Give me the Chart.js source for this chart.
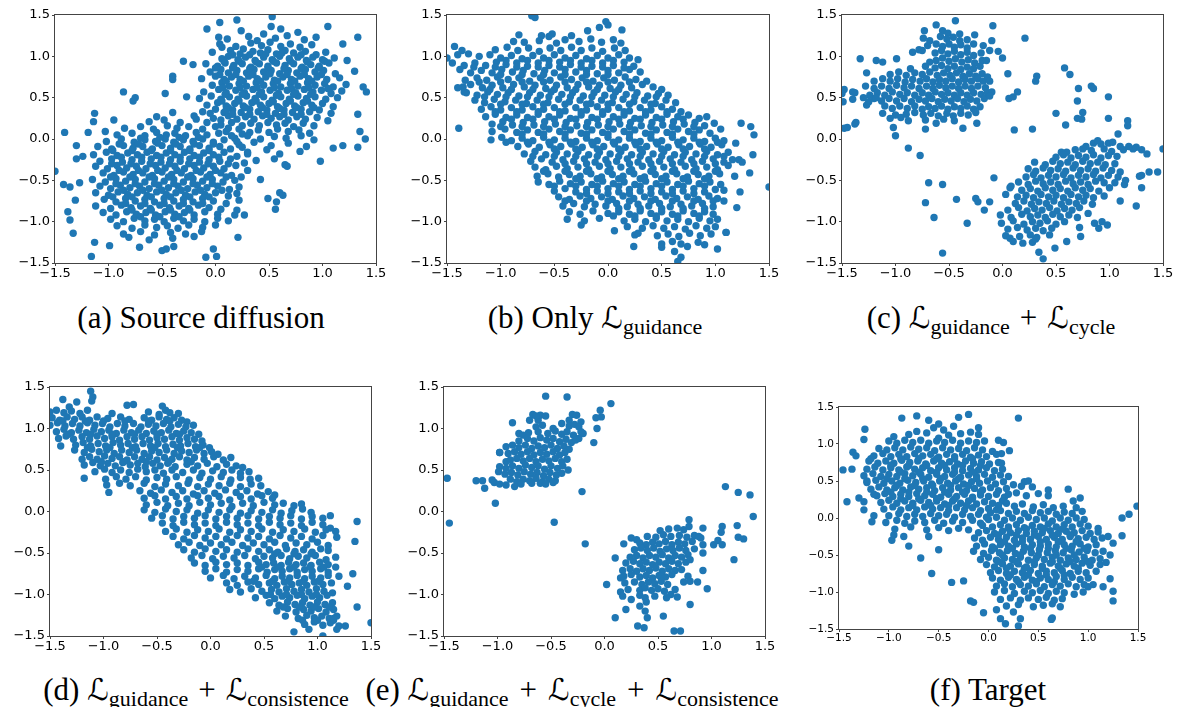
<!DOCTYPE html>
<html>
<head>
<meta charset="utf-8">
<script src="https://cdn.jsdelivr.net/npm/chart.js@4.4.1/dist/chart.umd.min.js"></script>
<style>
  body { margin: 0; background: #fff; width: 1183px; height: 707px; position: relative; overflow: hidden; }
  .panel { position: absolute; }
  .cap {
    position: absolute; white-space: nowrap; width: 500px; margin-left: -250px; text-align: center;
    font-family: "Liberation Serif", Tinos, "Times New Roman", Times, "Nimbus Roman", "Noto Serif", "DejaVu Serif", serif;
    font-size: 31px; line-height: 31px; color: #000;
  }
  .cap .L { font-family: "DejaVu Serif", "DejaVu Sans", serif; font-style: italic; font-size: 30px; }
  .cap .s { font-size: 22px; position: relative; top: 6px; }
  .cap .op { margin: 0 10px; }
  .cap .opt { margin: 0 11px; }
</style>
</head>
<body>
<div id="root"></div>
<div class="cap" style="left:201px; top:302px">(a) Source diffusion</div>
<div class="cap" style="left:595px; top:302px">(b) Only <span class="L">ℒ</span><span class="s">guidance</span></div>
<div class="cap" style="left:991px; top:302px">(c) <span class="L">ℒ</span><span class="s">guidance</span><span class="op">+</span><span class="L">ℒ</span><span class="s">cycle</span></div>
<div class="cap" style="left:196px; top:674px">(d) <span class="L">ℒ</span><span class="s">guidance</span><span class="op">+</span><span class="L">ℒ</span><span class="s">consistence</span></div>
<div class="cap" style="left:572px; top:674px">(e) <span class="L">ℒ</span><span class="s">guidance</span><span class="opt">+</span><span class="L">ℒ</span><span class="s">cycle</span><span class="opt">+</span><span class="L">ℒ</span><span class="s">consistence</span></div>
<div class="cap" style="left:988px; top:674px">(f) Target</div>
<script>
// ── Shared axis ticks ─────────────────────────────────────────
const TICKS = [-1.5, -1.0, -0.5, 0.0, 0.5, 1.0, 1.5];
const DOT = '#1f77b4';

// ── (a) Source diffusion ─────────────────────────────────────
const srcUpper = [
  [0.24,1.31],[0.45,1.27],[0.61,1.33],[0.77,1.29],[0.52,1.36],
  [0.11,1.21],[0.31,1.24],[0.39,1.19],[0.56,1.22],[0.67,1.25],[0.83,1.20],[0.94,1.23],
  [0.04,1.15],[0.19,1.12],[0.33,1.16],[0.43,1.13],[0.51,1.17],[0.61,1.12],[0.70,1.15],[0.79,1.11],[0.90,1.14],[0.26,1.09],
  [-0.03,1.05],[0.14,1.07],[0.23,1.03],[0.35,1.06],[0.42,1.04],[0.49,1.08],[0.57,1.03],[0.65,1.07],[0.73,1.04],[0.84,1.06],[0.94,1.02],[1.03,1.05],
  [0.06,0.97],[0.12,1.00],[0.21,0.96],[0.28,0.99],[0.37,0.95],[0.45,0.99],[0.53,0.96],[0.60,1.00],[0.69,0.97],[0.77,0.99],[0.85,0.95],[0.91,0.99],[1.00,0.96],[1.11,0.98],
  [-0.09,0.91],[0.02,0.88],[0.09,0.92],[0.17,0.89],[0.25,0.91],[0.33,0.87],[0.41,0.91],[0.49,0.88],[0.57,0.92],[0.65,0.89],[0.73,0.91],[0.81,0.87],[0.89,0.90],[0.97,0.88],[1.06,0.92],
  [-0.05,0.81],[0.05,0.84],[0.12,0.80],[0.20,0.83],[0.29,0.80],[0.36,0.84],[0.45,0.81],[0.52,0.83],[0.60,0.79],[0.68,0.83],[0.76,0.80],[0.84,0.84],[0.93,0.81],[1.01,0.83],[1.12,0.79],
  [-0.13,0.73],[0.00,0.76],[0.08,0.72],[0.15,0.75],[0.23,0.72],[0.31,0.76],[0.39,0.73],[0.47,0.75],[0.55,0.71],[0.63,0.75],[0.71,0.72],[0.79,0.76],[0.87,0.73],[0.95,0.75],[1.04,0.72],[1.16,0.74],
  [-0.03,0.65],[0.06,0.68],[0.13,0.64],[0.22,0.67],[0.29,0.64],[0.38,0.68],[0.45,0.65],[0.54,0.67],[0.61,0.63],[0.70,0.67],[0.77,0.64],[0.86,0.68],[0.93,0.65],[1.02,0.67],[1.10,0.63],[1.22,0.66],
  [-0.11,0.57],[0.03,0.60],[0.10,0.56],[0.19,0.59],[0.27,0.56],[0.35,0.60],[0.43,0.57],[0.51,0.59],[0.59,0.55],[0.67,0.59],[0.75,0.56],[0.83,0.60],[0.91,0.57],[0.99,0.59],[1.08,0.55],[1.18,0.58],
  [-0.15,0.49],[-0.04,0.52],[0.05,0.48],[0.13,0.51],[0.21,0.48],[0.29,0.52],[0.37,0.49],[0.45,0.51],[0.53,0.47],[0.61,0.51],[0.69,0.48],[0.77,0.52],[0.85,0.49],[0.93,0.51],[1.03,0.48],[1.14,0.50],
  [-0.08,0.41],[0.02,0.44],[0.10,0.40],[0.18,0.43],[0.26,0.40],[0.34,0.44],[0.42,0.41],[0.50,0.43],[0.58,0.39],[0.66,0.43],[0.74,0.40],[0.82,0.44],[0.90,0.41],[1.00,0.43],[1.10,0.39],
  [-0.12,0.33],[0.00,0.36],[0.08,0.32],[0.16,0.35],[0.24,0.32],[0.32,0.36],[0.40,0.33],[0.48,0.35],[0.56,0.31],[0.64,0.35],[0.72,0.32],[0.80,0.36],[0.88,0.33],[0.97,0.35],[1.08,0.31],
  [-0.02,0.25],[0.12,0.28],[0.20,0.24],[0.28,0.27],[0.36,0.24],[0.44,0.28],[0.52,0.25],[0.60,0.27],[0.68,0.23],[0.76,0.27],[0.84,0.24],[0.95,0.26],[1.05,0.22],
  [0.05,0.17],[0.15,0.20],[0.25,0.16],[0.33,0.19],[0.41,0.16],[0.49,0.20],[0.57,0.17],[0.65,0.19],[0.73,0.15],[0.82,0.19],[0.92,0.16],
  [0.10,0.09],[0.22,0.12],[0.32,0.08],[0.40,0.11],[0.50,0.08],[0.58,0.12],[0.68,0.09],[0.78,0.11],[0.88,0.07],
  [0.18,0.01],[0.30,0.04],[0.42,0.00],[0.55,0.03],[0.66,0.01],[0.80,0.04],[0.92,-0.01],
  [0.22,-0.07],[0.36,-0.04],[0.52,-0.08],[0.68,-0.05],[0.85,-0.09],
  [0.30,-0.16],[0.48,-0.13],[0.60,-0.18],[0.38,-0.26],[0.55,-0.24],[0.65,-0.31],[0.67,-0.33]
];
const srcUpperCore = [
  [0.16,1.02],[0.32,1.02],[0.47,1.03],[0.62,1.04],[0.80,1.02],
  [0.08,0.94],[0.22,0.94],[0.38,0.93],[0.54,0.94],[0.70,0.94],[0.86,0.93],[1.02,0.94],
  [0.00,0.86],[0.16,0.86],[0.32,0.85],[0.49,0.86],[0.64,0.85],[0.80,0.85],[0.96,0.86],
  [0.04,0.78],[0.19,0.78],[0.35,0.78],[0.51,0.79],[0.67,0.78],[0.83,0.78],[0.99,0.78],
  [0.10,0.70],[0.26,0.70],[0.42,0.70],[0.58,0.70],[0.74,0.70],[0.90,0.70],
  [0.07,0.62],[0.23,0.62],[0.39,0.62],[0.55,0.62],[0.71,0.61],[0.87,0.62],[1.05,0.61],
  [0.09,0.54],[0.25,0.54],[0.41,0.54],[0.57,0.53],[0.73,0.54],[0.89,0.54],
  [0.06,0.46],[0.22,0.46],[0.38,0.46],[0.54,0.45],[0.70,0.46],[0.86,0.46],
  [0.12,0.38],[0.28,0.38],[0.44,0.38],[0.60,0.37],[0.76,0.38],[0.92,0.38],
  [0.16,0.30],[0.32,0.30],[0.48,0.30],[0.64,0.30],[0.80,0.30]
];
const srcLower = [
  [-0.40,0.32],[-0.20,0.28],[-0.05,0.31],[0.10,0.35],[-0.55,0.27],
  [-0.62,0.21],[-0.48,0.23],[-0.33,0.20],[-0.18,0.24],[-0.08,0.20],[0.05,0.23],
  [-0.85,0.13],[-0.70,0.15],[-0.58,0.12],[-0.45,0.16],[-0.36,0.13],[-0.25,0.15],[-0.12,0.12],[0.00,0.15],[0.12,0.13],
  [-0.92,0.05],[-0.78,0.07],[-0.66,0.04],[-0.55,0.08],[-0.46,0.05],[-0.38,0.07],[-0.28,0.04],[-0.18,0.08],[-0.08,0.05],[0.03,0.07],[0.15,0.04],[0.25,0.06],
  [-1.02,-0.03],[-0.88,0.00],[-0.76,-0.04],[-0.66,-0.01],[-0.56,-0.03],[-0.47,0.00],[-0.39,-0.04],[-0.30,-0.01],[-0.21,-0.03],[-0.12,0.00],[-0.02,-0.04],[0.08,-0.01],[0.20,-0.03],
  [-1.10,-0.09],[-0.97,-0.12],[-0.86,-0.08],[-0.77,-0.11],[-0.68,-0.09],[-0.59,-0.12],[-0.50,-0.08],[-0.42,-0.11],[-0.33,-0.09],[-0.24,-0.12],[-0.15,-0.08],[-0.06,-0.11],[0.04,-0.09],[0.14,-0.12],[0.25,-0.10],
  [-1.14,-0.19],[-1.02,-0.16],[-0.92,-0.20],[-0.82,-0.17],[-0.73,-0.19],[-0.64,-0.16],[-0.55,-0.20],[-0.46,-0.17],[-0.38,-0.19],[-0.29,-0.16],[-0.20,-0.20],[-0.11,-0.17],[-0.02,-0.19],[0.08,-0.16],[0.20,-0.21],[0.30,-0.18],
  [-1.08,-0.27],[-0.97,-0.24],[-0.87,-0.28],[-0.78,-0.25],[-0.69,-0.27],[-0.60,-0.24],[-0.51,-0.28],[-0.42,-0.25],[-0.33,-0.27],[-0.24,-0.24],[-0.15,-0.28],[-0.06,-0.25],[0.04,-0.27],[0.14,-0.24],[0.27,-0.29],
  [-1.12,-0.33],[-1.01,-0.36],[-0.92,-0.32],[-0.83,-0.35],[-0.74,-0.33],[-0.65,-0.36],[-0.56,-0.32],[-0.47,-0.35],[-0.38,-0.33],[-0.29,-0.36],[-0.20,-0.32],[-0.11,-0.35],[-0.02,-0.33],[0.08,-0.36],[0.19,-0.32],[0.30,-0.38],
  [-1.05,-0.41],[-0.95,-0.44],[-0.86,-0.40],[-0.77,-0.43],[-0.68,-0.41],[-0.59,-0.44],[-0.50,-0.40],[-0.41,-0.43],[-0.32,-0.41],[-0.23,-0.44],[-0.14,-0.40],[-0.05,-0.43],[0.05,-0.41],[0.15,-0.44],[0.24,-0.46],
  [-1.15,-0.49],[-1.03,-0.52],[-0.93,-0.48],[-0.84,-0.51],[-0.75,-0.49],[-0.66,-0.52],[-0.57,-0.48],[-0.48,-0.51],[-0.39,-0.49],[-0.30,-0.52],[-0.21,-0.48],[-0.12,-0.51],[-0.03,-0.49],[0.07,-0.52],[0.18,-0.50],
  [-1.08,-0.57],[-0.98,-0.60],[-0.89,-0.56],[-0.80,-0.59],[-0.71,-0.57],[-0.62,-0.60],[-0.53,-0.56],[-0.44,-0.59],[-0.35,-0.57],[-0.26,-0.60],[-0.17,-0.56],[-0.08,-0.59],[0.02,-0.57],[0.13,-0.61],[0.22,-0.58],
  [-1.12,-0.65],[-1.00,-0.68],[-0.91,-0.64],[-0.82,-0.67],[-0.73,-0.65],[-0.64,-0.68],[-0.55,-0.64],[-0.46,-0.67],[-0.37,-0.65],[-0.28,-0.68],[-0.19,-0.64],[-0.10,-0.67],[0.00,-0.65],[0.12,-0.69],[0.20,-0.66],
  [-1.04,-0.73],[-0.93,-0.76],[-0.84,-0.72],[-0.75,-0.75],[-0.66,-0.73],[-0.57,-0.76],[-0.48,-0.72],[-0.39,-0.75],[-0.30,-0.73],[-0.21,-0.76],[-0.12,-0.72],[-0.02,-0.75],[0.10,-0.78],[0.22,-0.74],
  [-1.12,-0.81],[-0.98,-0.84],[-0.88,-0.80],[-0.79,-0.83],[-0.70,-0.81],[-0.61,-0.84],[-0.52,-0.80],[-0.43,-0.83],[-0.34,-0.81],[-0.25,-0.84],[-0.16,-0.80],[-0.06,-0.83],[0.05,-0.85],[0.20,-0.86],
  [-1.05,-0.89],[-0.93,-0.92],[-0.83,-0.88],[-0.74,-0.91],[-0.65,-0.89],[-0.56,-0.92],[-0.47,-0.88],[-0.38,-0.91],[-0.29,-0.89],[-0.20,-0.92],[-0.10,-0.88],[0.02,-0.91],[0.18,-0.92],
  [-0.98,-0.97],[-0.86,-1.00],[-0.76,-0.96],[-0.66,-0.99],[-0.57,-0.97],[-0.48,-1.00],[-0.39,-0.96],[-0.30,-0.99],[-0.20,-0.97],[-0.10,-1.00],[0.02,-0.96],[0.12,-0.99],
  [-0.92,-1.05],[-0.78,-1.08],[-0.66,-1.04],[-0.55,-1.07],[-0.45,-1.05],[-0.35,-1.08],[-0.25,-1.04],[-0.12,-1.07],[0.00,-1.04],
  [-0.86,-1.15],[-0.70,-1.12],[-0.57,-1.16],[-0.42,-1.13],[-0.28,-1.15],[-0.13,-1.12],
  [-0.62,-1.22],[-0.40,-1.20],[-0.20,-1.18],[-0.81,-1.19]
];
const srcLowerCore = [
  [-0.70,0.01],[-0.52,0.02],[-0.34,0.02],[-0.16,0.02],
  [-0.90,-0.06],[-0.72,-0.06],[-0.54,-0.05],[-0.37,-0.06],[-0.20,-0.06],[-0.02,-0.06],
  [-0.96,-0.14],[-0.78,-0.14],[-0.60,-0.14],[-0.42,-0.14],[-0.24,-0.14],[-0.06,-0.14],
  [-0.88,-0.22],[-0.69,-0.22],[-0.51,-0.22],[-0.33,-0.22],[-0.15,-0.22],[0.03,-0.22],
  [-0.97,-0.30],[-0.79,-0.30],[-0.61,-0.30],[-0.43,-0.30],[-0.25,-0.30],[-0.07,-0.30],[0.12,-0.30],
  [-0.90,-0.38],[-0.72,-0.38],[-0.54,-0.38],[-0.36,-0.38],[-0.18,-0.38],[0.00,-0.38],
  [-0.98,-0.46],[-0.80,-0.46],[-0.62,-0.46],[-0.44,-0.46],[-0.26,-0.46],[-0.08,-0.46],[0.10,-0.46],
  [-0.93,-0.54],[-0.75,-0.54],[-0.57,-0.54],[-0.39,-0.54],[-0.21,-0.54],[-0.03,-0.54],
  [-0.86,-0.62],[-0.68,-0.62],[-0.50,-0.62],[-0.32,-0.62],[-0.14,-0.62],[0.06,-0.62],
  [-0.96,-0.70],[-0.78,-0.70],[-0.60,-0.70],[-0.42,-0.70],[-0.24,-0.70],[-0.06,-0.70],
  [-0.84,-0.78],[-0.66,-0.78],[-0.48,-0.78],[-0.30,-0.78],[-0.12,-0.78],
  [-0.78,-0.86],[-0.60,-0.86],[-0.42,-0.86],[-0.24,-0.86],
  [-0.70,-0.94],[-0.52,-0.94],[-0.34,-0.94]
];
const srcSparse = [
  [0.53,1.48],[0.04,1.41],[-0.08,1.33],[0.20,1.44],[1.05,1.36],[1.33,1.23],[1.19,1.15],[1.23,0.95],
  [1.30,0.82],[1.38,0.63],[1.41,0.57],[1.33,0.30],[1.35,0.09],[1.40,0.00],[1.33,-0.10],[1.19,-0.08],
  [1.10,-0.11],[0.98,-0.27],[0.79,-0.15],[0.49,-0.72],[0.57,-0.76],[0.56,-0.85],[0.60,-0.65],[0.63,-0.68],
  [0.42,-0.49],[0.21,-1.19],[0.27,-0.92],[-0.02,-1.33],[-0.09,-1.43],[0.01,-1.42],[-0.39,-1.30],[-0.46,-1.33],
  [-0.50,-1.35],[-0.71,-1.31],[-0.99,-1.29],[-1.16,-1.42],[-1.13,-1.25],[-1.33,-1.14],[-1.36,-0.98],[-1.38,-0.88],
  [-1.31,-0.74],[-1.42,-0.55],[-1.50,-0.39],[-1.36,-0.58],[-1.27,-0.53],[-1.30,-0.24],[-1.24,-0.21],[-1.30,-0.08],
  [-1.41,0.08],[-1.19,0.08],[-1.13,0.31],[-1.14,0.21],[-0.86,0.57],[-0.75,0.50],[-0.77,0.46],[-0.95,0.23],
  [-1.03,0.09],[-0.30,0.94],[-0.40,0.76],[-0.40,0.72],[-0.47,0.55],[-0.21,0.90],[-0.27,0.51],[0.06,1.11],[0.03,1.23]
];

// ── (b) Only L_guidance ──────────────────────────────────────
const guideBand = [
  [-0.71,1.49],[-0.68,1.47],[-0.62,1.25],[-0.55,1.24],[-0.52,1.27],[-0.34,1.25],[-0.19,1.31],[-0.08,1.35],[0.00,1.38],[-0.02,1.42],[0.13,1.32],[-0.88,1.18],[-0.83,1.26],
  [-0.78,1.17],[-0.64,1.19],[-0.48,1.16],[-0.40,1.20],[-0.27,1.18],[-0.16,1.21],[-0.06,1.17],[0.05,1.20],[0.12,1.16],
  [-1.43,1.12],[-1.36,1.07],[-1.05,1.08],[-0.94,1.11],[-0.84,1.07],[-0.74,1.10],[-0.64,1.06],[-0.54,1.10],[-0.44,1.07],[-0.34,1.11],[-0.25,1.07],[-0.15,1.10],[-0.05,1.06],[0.06,1.10],[0.16,1.07],
  [-1.50,0.98],[-1.40,1.02],[-1.30,1.03],[-1.20,1.00],[-1.10,1.02],[-1.00,0.98],[-0.90,1.01],[-0.80,0.97],[-0.70,1.01],[-0.60,0.98],[-0.50,1.02],[-0.40,0.98],[-0.30,1.01],[-0.20,0.97],[-0.10,1.01],[0.00,0.98],[0.10,1.02],[0.20,0.98],
  [-1.45,0.92],[-1.34,0.89],[-1.24,0.92],[-1.14,0.89],[-1.04,0.93],[-0.95,0.90],[-0.85,0.92],[-0.75,0.88],[-0.65,0.92],[-0.55,0.89],[-0.45,0.93],[-0.35,0.90],[-0.25,0.92],[-0.15,0.88],[-0.05,0.92],[0.05,0.89],[0.15,0.93],[0.28,0.96],[0.24,0.88],
  [-1.38,0.84],[-1.28,0.80],[-1.18,0.83],[-1.08,0.80],[-0.99,0.84],[-0.89,0.81],[-0.79,0.83],[-0.69,0.79],[-0.59,0.83],[-0.50,0.80],[-0.40,0.84],[-0.30,0.81],[-0.20,0.83],[-0.10,0.79],[0.00,0.83],[0.10,0.80],[0.20,0.84],[0.30,0.81],
  [-1.33,0.71],[-1.22,0.74],[-1.13,0.71],[-1.03,0.75],[-0.93,0.72],[-0.83,0.74],[-0.73,0.70],[-0.63,0.74],[-0.54,0.71],[-0.44,0.75],[-0.34,0.72],[-0.24,0.74],[-0.14,0.70],[-0.04,0.74],[0.06,0.71],[0.16,0.75],[0.26,0.72],[0.36,0.70],
  [-1.35,0.63],[-1.28,0.66],[-1.17,0.62],[-1.08,0.65],[-0.98,0.62],[-0.88,0.66],[-0.78,0.63],[-0.68,0.65],[-0.58,0.61],[-0.48,0.65],[-0.38,0.62],[-0.28,0.66],[-0.18,0.63],[-0.08,0.65],[0.02,0.61],[0.12,0.65],[0.22,0.62],[0.32,0.66],[0.42,0.63],[0.50,0.60],
  [-1.32,0.56],[-1.22,0.53],[-1.12,0.57],[-1.03,0.54],[-0.93,0.56],[-0.83,0.52],[-0.73,0.56],[-0.63,0.53],[-0.53,0.57],[-0.43,0.54],[-0.33,0.56],[-0.23,0.52],[-0.13,0.56],[-0.03,0.53],[0.07,0.57],[0.17,0.54],[0.27,0.56],[0.37,0.52],[0.47,0.55],[0.56,0.53],
  [-1.24,0.47],[-1.15,0.44],[-1.06,0.48],[-0.96,0.45],[-0.86,0.47],[-0.76,0.43],[-0.66,0.47],[-0.56,0.44],[-0.46,0.48],[-0.36,0.45],[-0.26,0.47],[-0.16,0.43],[-0.06,0.47],[0.04,0.44],[0.14,0.48],[0.24,0.45],[0.34,0.47],[0.44,0.43],[0.54,0.47],[0.63,0.44],
  [-1.18,0.36],[-1.09,0.39],[-1.00,0.35],[-0.90,0.38],[-0.80,0.35],[-0.70,0.39],[-0.60,0.36],[-0.50,0.38],[-0.40,0.34],[-0.30,0.38],[-0.20,0.35],[-0.10,0.39],[0.00,0.36],[0.10,0.38],[0.20,0.34],[0.30,0.38],[0.40,0.35],[0.50,0.39],[0.60,0.36],[0.68,0.33],
  [-1.14,0.27],[-1.05,0.30],[-0.95,0.26],[-0.85,0.29],[-0.75,0.26],[-0.65,0.30],[-0.55,0.27],[-0.45,0.29],[-0.35,0.25],[-0.25,0.29],[-0.15,0.26],[-0.05,0.30],[0.05,0.27],[0.15,0.29],[0.25,0.25],[0.35,0.29],[0.45,0.26],[0.55,0.30],[0.65,0.27],[0.75,0.29],[0.85,0.25],[0.92,0.27],
  [-1.08,0.18],[-0.98,0.21],[-0.89,0.17],[-0.79,0.20],[-0.69,0.17],[-0.59,0.21],[-0.49,0.18],[-0.39,0.20],[-0.29,0.16],[-0.19,0.20],[-0.09,0.17],[0.01,0.21],[0.11,0.18],[0.21,0.20],[0.31,0.16],[0.41,0.20],[0.51,0.17],[0.61,0.21],[0.71,0.18],[0.81,0.20],[0.90,0.16],[0.99,0.19],
  [-1.08,0.09],[-0.96,0.12],[-0.85,0.08],[-0.75,0.11],[-0.65,0.08],[-0.55,0.12],[-0.45,0.09],[-0.35,0.11],[-0.25,0.07],[-0.15,0.11],[-0.05,0.08],[0.05,0.12],[0.15,0.09],[0.25,0.11],[0.35,0.07],[0.45,0.11],[0.55,0.08],[0.65,0.12],[0.75,0.09],[0.85,0.11],[0.95,0.07],[1.05,0.12],
  [-1.09,-0.01],[-0.99,0.02],[-0.90,-0.02],[-0.80,0.01],[-0.70,-0.02],[-0.60,0.02],[-0.50,-0.01],[-0.40,0.01],[-0.30,-0.03],[-0.20,0.01],[-0.10,-0.02],[0.00,0.02],[0.10,-0.01],[0.20,0.01],[0.30,-0.03],[0.40,0.01],[0.50,-0.02],[0.60,0.02],[0.70,-0.01],[0.80,0.01],[0.90,-0.03],[1.00,0.01],[1.08,-0.02],
  [-0.84,-0.09],[-0.74,-0.06],[-0.64,-0.10],[-0.54,-0.07],[-0.44,-0.09],[-0.34,-0.06],[-0.24,-0.10],[-0.14,-0.07],[-0.04,-0.09],[0.06,-0.06],[0.16,-0.10],[0.26,-0.07],[0.36,-0.09],[0.46,-0.06],[0.56,-0.10],[0.66,-0.07],[0.76,-0.09],[0.86,-0.06],[0.96,-0.10],[1.06,-0.07],
  [-0.78,-0.18],[-0.68,-0.15],[-0.58,-0.19],[-0.48,-0.16],[-0.38,-0.18],[-0.28,-0.15],[-0.18,-0.19],[-0.08,-0.16],[0.02,-0.18],[0.12,-0.15],[0.22,-0.19],[0.32,-0.16],[0.42,-0.18],[0.52,-0.15],[0.62,-0.19],[0.72,-0.16],[0.82,-0.18],[0.92,-0.15],[1.02,-0.19],[1.12,-0.16],
  [-0.72,-0.27],[-0.62,-0.24],[-0.52,-0.28],[-0.42,-0.25],[-0.32,-0.27],[-0.22,-0.24],[-0.12,-0.28],[-0.02,-0.25],[0.08,-0.27],[0.18,-0.24],[0.28,-0.28],[0.38,-0.25],[0.48,-0.27],[0.58,-0.24],[0.68,-0.28],[0.78,-0.25],[0.88,-0.27],[0.98,-0.24],[1.08,-0.28],[1.16,-0.25],
  [-0.68,-0.34],[-0.58,-0.37],[-0.48,-0.33],[-0.38,-0.36],[-0.28,-0.34],[-0.18,-0.37],[-0.08,-0.33],[0.02,-0.36],[0.12,-0.34],[0.22,-0.37],[0.32,-0.33],[0.42,-0.36],[0.52,-0.34],[0.62,-0.37],[0.72,-0.33],[0.82,-0.36],[0.92,-0.34],[1.02,-0.37],[1.12,-0.32],
  [-0.66,-0.45],[-0.56,-0.42],[-0.46,-0.46],[-0.36,-0.43],[-0.26,-0.45],[-0.16,-0.42],[-0.06,-0.46],[0.04,-0.43],[0.14,-0.45],[0.24,-0.42],[0.34,-0.46],[0.44,-0.43],[0.54,-0.45],[0.64,-0.42],[0.74,-0.46],[0.84,-0.43],[0.94,-0.45],[1.04,-0.42],
  [-0.65,-0.52],[-0.55,-0.55],[-0.45,-0.51],[-0.35,-0.54],[-0.25,-0.52],[-0.15,-0.55],[-0.05,-0.51],[0.05,-0.54],[0.15,-0.52],[0.25,-0.55],[0.35,-0.51],[0.45,-0.54],[0.55,-0.52],[0.65,-0.55],[0.75,-0.51],[0.85,-0.54],[0.95,-0.52],[1.05,-0.55],
  [-0.50,-0.63],[-0.40,-0.60],[-0.30,-0.64],[-0.20,-0.61],[-0.10,-0.63],[0.00,-0.60],[0.10,-0.64],[0.20,-0.61],[0.30,-0.63],[0.40,-0.60],[0.50,-0.64],[0.60,-0.61],[0.70,-0.63],[0.80,-0.60],[0.90,-0.64],[1.00,-0.61],[1.08,-0.62],
  [-0.46,-0.70],[-0.36,-0.73],[-0.26,-0.69],[-0.16,-0.72],[-0.06,-0.70],[0.04,-0.73],[0.14,-0.69],[0.24,-0.72],[0.34,-0.70],[0.44,-0.73],[0.54,-0.69],[0.64,-0.72],[0.74,-0.70],[0.84,-0.73],[0.94,-0.69],[1.02,-0.72],
  [-0.42,-0.81],[-0.32,-0.78],[-0.22,-0.82],[-0.12,-0.79],[-0.02,-0.81],[0.08,-0.78],[0.18,-0.82],[0.28,-0.79],[0.38,-0.81],[0.48,-0.78],[0.58,-0.82],[0.68,-0.79],[0.78,-0.81],[0.88,-0.78],[0.98,-0.82],
  [-0.36,-0.88],[-0.26,-0.91],[-0.14,-0.87],[0.00,-0.90],[0.10,-0.88],[0.20,-0.91],[0.30,-0.87],[0.40,-0.90],[0.50,-0.88],[0.60,-0.91],[0.70,-0.87],[0.80,-0.90],[0.90,-0.88],[0.98,-0.91],
  [-0.38,-0.97],[-0.22,-0.99],[-0.08,-0.96],[0.15,-0.99],[0.25,-0.97],[0.35,-1.00],[0.45,-0.96],[0.55,-0.99],[0.65,-0.97],[0.75,-1.00],[0.85,-0.96],[0.95,-0.99],[1.02,-0.97],
  [-0.25,-1.04],[0.18,-1.06],[0.32,-1.08],[0.42,-1.05],[0.52,-1.08],[0.62,-1.06],[0.72,-1.09],[0.82,-1.05],[0.92,-1.08],[1.00,-1.06],[0.06,-1.11],
  [0.25,-1.16],[0.28,-1.14],[0.46,-1.17],[0.56,-1.15],[0.66,-1.18],[0.76,-1.14],[0.86,-1.17],[0.96,-1.15],[1.10,-1.13],
  [0.24,-1.30],[0.50,-1.27],[0.50,-1.31],[0.60,-1.24],[0.68,-1.27],[0.74,-1.30],[0.84,-1.25],[0.90,-1.28],[1.02,-1.33],[0.62,-1.36],[0.65,-1.48],[0.68,-1.43]
];
const guideCore = [
  [-0.95,0.95],[-0.75,0.95],[-0.55,0.95],[-0.35,0.95],[-0.15,0.95],[0.05,0.95],
  [-1.00,0.78],[-0.80,0.78],[-0.60,0.78],[-0.40,0.78],[-0.20,0.78],[0.00,0.78],
  [-1.10,0.60],[-0.90,0.60],[-0.70,0.60],[-0.50,0.60],[-0.30,0.60],[-0.10,0.60],[0.10,0.60],
  [-1.00,0.42],[-0.80,0.42],[-0.60,0.42],[-0.40,0.42],[-0.20,0.42],[0.00,0.42],[0.20,0.42],[0.40,0.42],
  [-0.90,0.24],[-0.70,0.24],[-0.50,0.24],[-0.30,0.24],[-0.10,0.24],[0.10,0.24],[0.30,0.24],[0.50,0.24],[0.70,0.24],
  [-0.80,0.06],[-0.60,0.06],[-0.40,0.06],[-0.20,0.06],[0.00,0.06],[0.20,0.06],[0.40,0.06],[0.60,0.06],[0.80,0.06],
  [-0.50,-0.12],[-0.30,-0.12],[-0.10,-0.12],[0.10,-0.12],[0.30,-0.12],[0.50,-0.12],[0.70,-0.12],[0.90,-0.12],
  [-0.40,-0.30],[-0.20,-0.30],[0.00,-0.30],[0.20,-0.30],[0.40,-0.30],[0.60,-0.30],[0.80,-0.30],[1.00,-0.30],
  [-0.30,-0.48],[-0.10,-0.48],[0.10,-0.48],[0.30,-0.48],[0.50,-0.48],[0.70,-0.48],[0.90,-0.48],
  [-0.20,-0.66],[0.00,-0.66],[0.20,-0.66],[0.40,-0.66],[0.60,-0.66],[0.80,-0.66],
  [0.10,-0.84],[0.30,-0.84],[0.50,-0.84],[0.70,-0.84],[0.90,-0.84]
];
const guideCore2 = [
  [-1.25,0.87],[-1.05,0.87],[-0.85,0.87],[-0.65,0.87],[-0.45,0.87],[-0.25,0.87],[-0.05,0.87],[0.15,0.86],
  [-1.20,0.69],[-1.00,0.69],[-0.80,0.69],[-0.60,0.69],[-0.40,0.69],[-0.20,0.69],[0.00,0.69],[0.20,0.69],
  [-1.15,0.51],[-0.95,0.51],[-0.75,0.51],[-0.55,0.51],[-0.35,0.51],[-0.15,0.51],[0.05,0.51],[0.25,0.51],[0.45,0.51],
  [-1.05,0.33],[-0.85,0.33],[-0.65,0.33],[-0.45,0.33],[-0.25,0.33],[-0.05,0.33],[0.15,0.33],[0.35,0.33],[0.55,0.33],
  [-1.00,0.15],[-0.80,0.15],[-0.60,0.15],[-0.40,0.15],[-0.20,0.15],[0.00,0.15],[0.20,0.15],[0.40,0.15],[0.60,0.15],[0.80,0.15],
  [-0.95,-0.04],[-0.75,-0.04],[-0.55,-0.04],[-0.35,-0.04],[-0.15,-0.04],[0.05,-0.04],[0.25,-0.04],[0.45,-0.04],[0.65,-0.04],[0.85,-0.04],[1.02,-0.04],
  [-0.70,-0.21],[-0.50,-0.21],[-0.30,-0.21],[-0.10,-0.21],[0.10,-0.21],[0.30,-0.21],[0.50,-0.21],[0.70,-0.21],[0.90,-0.21],[1.08,-0.21],
  [-0.60,-0.39],[-0.40,-0.39],[-0.20,-0.39],[0.00,-0.39],[0.20,-0.39],[0.40,-0.39],[0.60,-0.39],[0.80,-0.39],[1.00,-0.39],
  [-0.50,-0.57],[-0.30,-0.57],[-0.10,-0.57],[0.10,-0.57],[0.30,-0.57],[0.50,-0.57],[0.70,-0.57],[0.90,-0.57],
  [-0.40,-0.75],[-0.20,-0.75],[0.00,-0.75],[0.20,-0.75],[0.40,-0.75],[0.60,-0.75],[0.80,-0.75],[0.98,-0.75],
  [0.05,-0.93],[0.25,-0.93],[0.45,-0.93],[0.65,-0.93],[0.85,-0.93]
];
const guideSparse = [
  [-1.39,0.13],[1.50,-0.58],[1.33,0.15],[1.36,0.05],[1.35,-0.19],[1.32,-0.41],[1.24,0.19],[1.22,-0.25],
  [1.23,-0.64],[1.20,-0.83],[1.10,-1.13],[1.08,-0.75],[1.18,-0.45],[1.19,-0.05],[1.25,-0.28],[-1.34,0.57],[-1.40,0.62]
];

// ── (c) L_guidance + L_cycle ─────────────────────────────────
const cycUpper = [
  [-0.62,1.38],[-0.44,1.43],
  [-0.73,1.31],[-0.56,1.31],[-0.51,1.28],[-0.40,1.27],
  [-0.74,1.22],[-0.68,1.19],[-0.58,1.24],[-0.52,1.21],[-0.46,1.23],[-0.40,1.19],[-0.33,1.20],[-0.26,1.26],
  [-0.78,1.08],[-0.70,1.13],[-0.62,1.15],[-0.56,1.12],[-0.50,1.15],[-0.45,1.11],[-0.39,1.14],[-0.33,1.10],[-0.27,1.15],[-0.18,1.13],
  [-0.84,1.05],[-0.75,1.07],[-0.63,1.04],[-0.57,1.07],[-0.51,1.03],[-0.45,1.06],[-0.39,1.02],[-0.33,1.05],[-0.27,1.01],[-0.20,1.04],
  [-0.68,0.93],[-0.62,0.95],[-0.56,0.98],[-0.50,0.94],[-0.44,0.97],[-0.38,0.93],[-0.32,0.96],[-0.26,0.92],[-0.19,0.95],
  [-0.86,0.85],[-0.72,0.88],[-0.63,0.86],[-0.57,0.89],[-0.51,0.85],[-0.45,0.88],[-0.39,0.84],[-0.33,0.87],[-0.27,0.85],[-0.21,0.88],
  [-1.05,0.78],[-0.97,0.81],[-0.90,0.77],[-0.82,0.80],[-0.75,0.78],[-0.68,0.81],[-0.61,0.77],[-0.55,0.80],[-0.49,0.77],[-0.43,0.80],[-0.37,0.76],[-0.31,0.79],[-0.25,0.76],[-0.19,0.79],
  [-1.20,0.70],[-1.12,0.73],[-1.05,0.70],[-0.98,0.73],[-0.91,0.69],[-0.84,0.72],[-0.77,0.70],[-0.71,0.73],[-0.65,0.69],[-0.59,0.72],[-0.53,0.70],[-0.47,0.73],[-0.41,0.69],[-0.35,0.72],[-0.29,0.70],[-0.23,0.73],[-0.18,0.70],
  [-1.28,0.64],[-1.20,0.61],[-1.13,0.64],[-1.06,0.61],[-0.99,0.65],[-0.92,0.62],[-0.85,0.64],[-0.78,0.61],[-0.71,0.64],[-0.65,0.61],[-0.59,0.65],[-0.53,0.62],[-0.47,0.64],[-0.41,0.61],[-0.35,0.64],[-0.29,0.61],[-0.23,0.64],[-0.16,0.62],
  [-1.38,0.56],[-1.24,0.53],[-1.17,0.56],[-1.10,0.53],[-1.03,0.57],[-0.96,0.54],[-0.89,0.56],[-0.82,0.53],[-0.75,0.56],[-0.69,0.53],[-0.63,0.57],[-0.57,0.54],[-0.51,0.56],[-0.45,0.53],[-0.39,0.56],[-0.33,0.53],[-0.27,0.56],[-0.20,0.54],[-0.14,0.56],
  [-1.40,0.48],[-1.20,0.49],[-1.13,0.46],[-1.06,0.49],[-0.99,0.46],[-0.92,0.49],[-0.85,0.45],[-0.78,0.48],[-0.72,0.46],[-0.66,0.49],[-0.60,0.45],[-0.54,0.48],[-0.48,0.46],[-0.42,0.49],[-0.36,0.45],[-0.30,0.48],[-0.24,0.46],[-0.17,0.49],
  [-1.27,0.41],[-1.10,0.40],[-1.03,0.37],[-0.96,0.40],[-0.89,0.37],[-0.82,0.40],[-0.75,0.36],[-0.69,0.39],[-0.63,0.37],[-0.57,0.40],[-0.51,0.36],[-0.45,0.39],[-0.39,0.37],[-0.33,0.40],[-0.27,0.36],[-0.21,0.39],
  [-1.12,0.31],[-1.00,0.29],[-0.90,0.30],[-0.82,0.32],[-0.74,0.29],[-0.67,0.31],[-0.60,0.28],[-0.52,0.31],[-0.46,0.28],[-0.39,0.31],[-0.32,0.29],[-0.25,0.32],
  [-0.95,0.26],[-0.88,0.22],[-0.72,0.23],[-0.62,0.19],[-0.55,0.24],[-0.45,0.22],[-0.37,0.13],[-0.24,0.19],[-0.72,0.12]
];
const cycLower = [
  [0.85,-0.05],[0.92,-0.06],[0.99,-0.05],[1.03,-0.04],[0.78,-0.09],[0.89,-0.02],
  [0.60,-0.16],[0.68,-0.13],[0.75,-0.12],[0.83,-0.14],[0.95,-0.12],[1.02,-0.15],[1.10,-0.09],[0.55,-0.16],
  [0.50,-0.22],[0.57,-0.19],[0.64,-0.23],[0.71,-0.20],[0.78,-0.22],[0.85,-0.19],[0.92,-0.23],[0.99,-0.20],[1.07,-0.21],[1.13,-0.13],
  [0.30,-0.28],[0.40,-0.31],[0.47,-0.27],[0.54,-0.30],[0.61,-0.28],[0.68,-0.31],[0.75,-0.27],[0.82,-0.30],[0.89,-0.28],[0.96,-0.31],[1.05,-0.30],
  [0.24,-0.36],[0.31,-0.39],[0.38,-0.35],[0.45,-0.38],[0.52,-0.36],[0.59,-0.39],[0.66,-0.35],[0.73,-0.38],[0.80,-0.36],[0.87,-0.39],[0.94,-0.35],[1.02,-0.38],[1.10,-0.40],
  [0.22,-0.46],[0.29,-0.43],[0.36,-0.47],[0.43,-0.44],[0.50,-0.46],[0.57,-0.43],[0.64,-0.47],[0.71,-0.44],[0.78,-0.46],[0.85,-0.43],[0.92,-0.47],[0.99,-0.44],[1.08,-0.46],
  [0.15,-0.52],[0.24,-0.55],[0.31,-0.51],[0.38,-0.54],[0.45,-0.52],[0.52,-0.55],[0.59,-0.51],[0.66,-0.54],[0.73,-0.52],[0.80,-0.55],[0.87,-0.51],[0.95,-0.53],[1.05,-0.53],
  [0.07,-0.59],[0.18,-0.62],[0.26,-0.60],[0.33,-0.63],[0.40,-0.59],[0.47,-0.62],[0.54,-0.60],[0.61,-0.63],[0.68,-0.59],[0.75,-0.62],[0.82,-0.60],[0.90,-0.63],[1.00,-0.59],
  [0.03,-0.67],[0.14,-0.70],[0.22,-0.68],[0.29,-0.71],[0.36,-0.67],[0.43,-0.70],[0.50,-0.68],[0.57,-0.71],[0.64,-0.67],[0.71,-0.70],[0.78,-0.68],[0.85,-0.71],[0.95,-0.69],
  [0.12,-0.78],[0.20,-0.75],[0.27,-0.79],[0.34,-0.76],[0.41,-0.78],[0.48,-0.75],[0.55,-0.79],[0.62,-0.76],[0.69,-0.78],[0.76,-0.75],[0.84,-0.79],
  [0.05,-0.86],[0.15,-0.83],[0.23,-0.87],[0.30,-0.84],[0.37,-0.86],[0.44,-0.83],[0.51,-0.87],[0.58,-0.84],[0.65,-0.86],[0.72,-0.83],[0.80,-0.90],
  [-0.02,-0.92],[0.08,-0.95],[0.18,-0.91],[0.26,-0.94],[0.33,-0.92],[0.40,-0.95],[0.47,-0.91],[0.54,-0.94],[0.62,-0.92],[0.70,-0.95],
  [-0.01,-1.02],[0.10,-0.99],[0.20,-1.03],[0.28,-1.00],[0.35,-1.02],[0.42,-0.99],[0.50,-1.03],[0.58,-1.00],[0.86,-1.02],[0.93,-1.00],[0.98,-1.04],
  [0.05,-1.09],[0.14,-1.07],[0.23,-1.10],[0.31,-1.08],[0.38,-1.11],[0.46,-1.08],[0.72,-1.07],[0.90,-1.08],
  [0.03,-1.17],[0.07,-1.20],[0.16,-1.18],[0.26,-1.16],[0.32,-1.19],[0.44,-1.16],[0.73,-1.18],[0.60,-1.24],
  [0.10,-1.24],[0.19,-1.26],[0.28,-1.25],[0.31,-1.21],[0.49,-1.32],[0.34,-1.37]
];
const cycSparse = [
  [-1.50,0.55],[-1.48,0.60],[-1.49,0.45],[-1.45,0.14],[-1.48,0.13],[-1.38,0.18],[-1.37,0.20],[-1.40,0.57],
  [-1.33,0.97],[-1.27,0.80],[-1.18,0.95],[-1.12,0.93],[-0.99,0.97],[-1.02,0.14],[-1.00,0.04],[-0.88,-0.11],
  [-0.77,-0.20],[-1.05,0.25],[-1.30,0.50],[-1.25,0.45],[-1.18,0.50],
  [-0.09,1.37],[-0.10,1.19],[-0.12,1.07],[-0.04,1.06],[0.00,0.98],[-0.15,0.95],[-0.14,0.75],[-0.12,0.70],[-0.10,0.57],[-0.12,0.52],
  [0.21,1.22],[0.05,0.79],[0.31,0.70],[0.32,0.76],[0.06,0.49],[0.10,0.51],[0.14,0.57],[0.11,0.11],[0.28,0.12],
  [0.50,0.31],[0.59,0.17],[0.58,0.86],[0.63,0.78],[0.71,0.61],[0.83,0.64],[0.85,0.61],[0.70,0.46],[0.75,0.32],
  [0.70,0.25],[0.74,0.24],[0.99,0.51],[0.99,0.25],[1.17,0.22],[1.17,0.16],[1.08,0.06],
  [-0.69,-0.53],[-0.56,-0.55],[-0.72,-0.77],[-0.64,-0.95],[-0.43,-0.73],[-0.33,-1.02],[-0.56,-1.38],
  [-0.25,-0.72],[-0.23,-0.76],[-0.12,-0.76],[-0.17,-0.86],[-0.08,-0.47],[0.08,-0.57],[0.38,-1.45],
  [1.25,-0.10],[1.30,-0.13],[1.35,-0.18],[1.50,-0.12],[1.45,-0.40],[1.37,-0.40],[1.30,-0.44],[1.28,-0.45],
  [1.30,-0.59],[1.25,-0.81],[1.10,-0.75],[1.15,-0.50],[1.14,-0.55],[1.22,-0.12],[1.18,-0.09]
];

// ── (d) L_guidance + L_consistence ───────────────────────────
const consBand = [
  [-1.12,1.45],[-1.10,1.38],[-1.11,1.33],
  [-1.38,1.35],[-1.25,1.32],[-0.78,1.28],[-0.72,1.29],[-0.45,1.27],[-1.32,1.26],
  [-1.50,1.20],[-1.44,1.22],[-1.37,1.19],[-1.30,1.21],[-1.22,1.18],[-1.15,1.22],[-0.92,1.18],[-0.58,1.20],[-0.48,1.17],[-0.38,1.19],[-0.30,1.18],[-0.42,1.22],
  [-1.48,1.13],[-1.41,1.10],[-1.34,1.14],[-1.27,1.11],[-1.20,1.14],[-1.13,1.10],[-1.06,1.14],[-0.96,1.12],[-0.84,1.14],[-0.76,1.11],[-0.62,1.13],[-0.55,1.10],[-0.48,1.14],[-0.41,1.11],[-0.34,1.13],[-0.27,1.10],[-0.22,1.08],
  [-1.50,1.04],[-1.43,1.07],[-1.36,1.03],[-1.29,1.06],[-1.22,1.03],[-1.15,1.07],[-1.08,1.04],[-1.01,1.06],[-0.94,1.02],[-0.87,1.06],[-0.80,1.03],[-0.72,1.06],[-0.65,1.02],[-0.58,1.05],[-0.51,1.03],[-0.44,1.06],[-0.37,1.02],[-0.30,1.05],[-0.23,1.02],[-0.16,1.04],
  [-1.44,0.96],[-1.37,0.99],[-1.30,0.95],[-1.23,0.98],[-1.16,0.95],[-1.09,0.99],[-1.02,0.96],[-0.95,0.98],[-0.88,0.94],[-0.81,0.98],[-0.74,0.95],[-0.67,0.98],[-0.60,0.94],[-0.53,0.97],[-0.46,0.95],[-0.39,0.98],[-0.32,0.94],[-0.25,0.97],[-0.18,0.95],[-0.11,0.93],
  [-1.42,0.88],[-1.35,0.91],[-1.28,0.87],[-1.20,0.90],[-1.13,0.87],[-1.06,0.91],[-0.99,0.88],[-0.92,0.90],[-0.85,0.86],[-0.78,0.90],[-0.71,0.87],[-0.64,0.90],[-0.57,0.86],[-0.50,0.89],[-0.43,0.87],[-0.36,0.90],[-0.29,0.86],[-0.22,0.89],[-0.15,0.87],[-0.08,0.85],
  [-1.40,0.79],[-1.26,0.80],[-1.19,0.83],[-1.12,0.79],[-1.05,0.82],[-0.98,0.79],[-0.91,0.83],[-0.84,0.80],[-0.77,0.82],[-0.70,0.78],[-0.63,0.82],[-0.56,0.79],[-0.49,0.82],[-0.42,0.78],[-0.35,0.81],[-0.28,0.79],[-0.21,0.82],[-0.14,0.78],[-0.07,0.80],[-0.01,0.77],
  [-1.27,0.74],[-1.18,0.71],[-1.11,0.75],[-1.04,0.72],[-0.97,0.74],[-0.90,0.70],[-0.83,0.74],[-0.76,0.71],[-0.69,0.74],[-0.62,0.70],[-0.55,0.73],[-0.48,0.71],[-0.41,0.74],[-0.34,0.70],[-0.27,0.73],[-0.20,0.71],[-0.13,0.74],[-0.06,0.70],[0.01,0.72],[0.07,0.69],
  [-1.20,0.63],[-1.13,0.66],[-1.06,0.63],[-0.99,0.67],[-0.92,0.64],[-0.85,0.66],[-0.78,0.62],[-0.71,0.66],[-0.64,0.63],[-0.57,0.66],[-0.50,0.62],[-0.43,0.65],[-0.36,0.63],[-0.29,0.66],[-0.22,0.62],[-0.15,0.65],[-0.06,0.63],[0.03,0.66],[0.12,0.62],[0.19,0.65],
  [-1.18,0.56],[-1.10,0.59],[-1.03,0.55],[-0.96,0.58],[-0.89,0.55],[-0.82,0.59],[-0.75,0.56],[-0.68,0.58],[-0.61,0.54],[-0.54,0.58],[-0.47,0.55],[-0.40,0.58],[-0.33,0.54],[-0.22,0.57],[-0.12,0.55],[-0.03,0.58],[0.06,0.54],[0.15,0.57],[0.24,0.55],[0.30,0.53],
  [-1.08,0.48],[-0.99,0.51],[-0.92,0.47],[-0.84,0.50],[-0.76,0.47],[-0.68,0.51],[-0.60,0.48],[-0.52,0.50],[-0.44,0.46],[-0.36,0.50],[-0.26,0.47],[-0.16,0.50],[-0.08,0.46],[0.02,0.49],[0.12,0.47],[0.20,0.50],[0.28,0.46],[0.36,0.48],
  [-1.18,0.40],[-0.98,0.39],[-0.88,0.42],[-0.79,0.39],[-0.70,0.42],[-0.60,0.38],[-0.50,0.41],[-0.41,0.39],[-0.32,0.42],[-0.20,0.38],[-0.10,0.41],[0.00,0.39],[0.10,0.42],[0.19,0.38],[0.28,0.41],[0.37,0.39],[0.45,0.40],
  [-0.97,0.32],[-0.85,0.34],[-0.75,0.31],[-0.62,0.34],[-0.52,0.30],[-0.42,0.33],[-0.30,0.31],[-0.21,0.34],[-0.12,0.30],[-0.02,0.33],[0.08,0.31],[0.18,0.34],[0.28,0.30],[0.38,0.33],[0.47,0.31],
  [-0.95,0.23],[-0.66,0.25],[-0.56,0.22],[-0.46,0.26],[-0.36,0.23],[-0.26,0.25],[-0.16,0.21],[-0.06,0.25],[0.04,0.22],[0.14,0.26],[0.24,0.23],[0.34,0.25],[0.44,0.21],[0.54,0.24],[0.60,0.20],
  [-0.62,0.16],[-0.52,0.19],[-0.42,0.15],[-0.32,0.18],[-0.22,0.15],[-0.12,0.19],[-0.02,0.16],[0.08,0.18],[0.18,0.14],[0.28,0.18],[0.38,0.15],[0.48,0.19],[0.58,0.16],
  [-0.60,0.08],[-0.50,0.11],[-0.40,0.07],[-0.30,0.10],[-0.20,0.07],[-0.10,0.11],[0.00,0.08],[0.10,0.10],[0.20,0.06],[0.30,0.10],[0.40,0.07],[0.50,0.11],[0.60,0.08],[0.68,0.10],[0.78,0.07],[0.85,0.09],
  [-0.62,0.02],[-0.52,-0.01],[-0.42,0.03],[-0.32,0.00],[-0.22,0.02],[-0.12,-0.02],[-0.02,0.02],[0.08,-0.01],[0.18,0.02],[0.28,-0.02],[0.38,0.01],[0.48,-0.01],[0.58,0.02],[0.66,-0.02],[0.76,0.01],[0.86,0.03],[0.94,-0.01],
  [-0.55,-0.08],[-0.45,-0.05],[-0.35,-0.09],[-0.25,-0.06],[-0.15,-0.08],[-0.05,-0.05],[0.05,-0.09],[0.15,-0.06],[0.25,-0.08],[0.35,-0.05],[0.45,-0.09],[0.55,-0.06],[0.65,-0.08],[0.75,-0.05],[0.85,-0.09],[0.95,-0.06],[1.05,-0.08],[1.12,-0.05],
  [-0.45,-0.14],[-0.35,-0.17],[-0.25,-0.13],[-0.15,-0.16],[-0.05,-0.14],[0.05,-0.17],[0.15,-0.13],[0.25,-0.16],[0.35,-0.14],[0.45,-0.17],[0.55,-0.13],[0.65,-0.16],[0.75,-0.14],[0.85,-0.17],[0.95,-0.13],[1.05,-0.16],[1.12,-0.20],
  [-0.42,-0.24],[-0.32,-0.21],[-0.22,-0.25],[-0.12,-0.22],[-0.02,-0.24],[0.08,-0.21],[0.18,-0.25],[0.28,-0.22],[0.38,-0.24],[0.48,-0.21],[0.58,-0.25],[0.68,-0.22],[0.78,-0.24],[0.88,-0.21],[0.98,-0.25],[1.08,-0.22],[1.17,-0.24],
  [-0.35,-0.30],[-0.25,-0.33],[-0.15,-0.29],[-0.05,-0.32],[0.05,-0.30],[0.15,-0.33],[0.25,-0.29],[0.35,-0.32],[0.45,-0.30],[0.55,-0.33],[0.65,-0.29],[0.75,-0.32],[0.85,-0.30],[0.95,-0.33],[1.05,-0.29],[1.18,-0.31],
  [-0.30,-0.40],[-0.20,-0.37],[-0.10,-0.41],[0.00,-0.38],[0.10,-0.40],[0.20,-0.37],[0.30,-0.41],[0.40,-0.38],[0.50,-0.40],[0.60,-0.37],[0.70,-0.41],[0.80,-0.38],[0.90,-0.40],[1.00,-0.37],[1.10,-0.41],
  [-0.25,-0.46],[-0.15,-0.49],[-0.05,-0.45],[0.05,-0.48],[0.15,-0.46],[0.25,-0.49],[0.35,-0.45],[0.45,-0.48],[0.55,-0.46],[0.63,-0.49],[0.71,-0.45],[0.79,-0.48],[0.87,-0.46],[0.95,-0.49],[1.03,-0.45],[1.10,-0.47],
  [-0.18,-0.56],[-0.08,-0.53],[0.02,-0.57],[0.12,-0.54],[0.22,-0.56],[0.32,-0.53],[0.42,-0.57],[0.50,-0.54],[0.58,-0.56],[0.66,-0.53],[0.74,-0.57],[0.82,-0.54],[0.90,-0.56],[0.98,-0.53],[1.08,-0.58],
  [-0.15,-0.62],[-0.05,-0.65],[0.05,-0.61],[0.15,-0.64],[0.25,-0.62],[0.35,-0.65],[0.45,-0.61],[0.52,-0.64],[0.59,-0.62],[0.66,-0.65],[0.73,-0.61],[0.80,-0.64],[0.87,-0.62],[0.94,-0.65],[1.02,-0.61],[1.10,-0.64],
  [-0.05,-0.72],[0.05,-0.69],[0.15,-0.73],[0.25,-0.70],[0.35,-0.72],[0.45,-0.69],[0.53,-0.73],[0.60,-0.70],[0.67,-0.72],[0.74,-0.69],[0.81,-0.73],[0.88,-0.70],[0.95,-0.72],[1.03,-0.69],[1.10,-0.73],
  [0.00,-0.80],[0.12,-0.77],[0.22,-0.81],[0.32,-0.78],[0.42,-0.80],[0.52,-0.77],[0.60,-0.81],[0.67,-0.78],[0.74,-0.80],[0.81,-0.77],[0.88,-0.81],[0.95,-0.78],[1.03,-0.80],[1.10,-0.77],
  [0.15,-0.86],[0.25,-0.89],[0.35,-0.85],[0.45,-0.88],[0.55,-0.86],[0.62,-0.89],[0.69,-0.85],[0.76,-0.88],[0.83,-0.86],[0.90,-0.89],[0.97,-0.85],[1.05,-0.88],[1.13,-0.86],
  [0.18,-0.94],[0.28,-0.97],[0.38,-0.93],[0.48,-0.96],[0.57,-0.94],[0.64,-0.97],[0.71,-0.93],[0.78,-0.96],[0.85,-0.94],[0.92,-0.97],[0.99,-0.93],[1.06,-0.96],[1.14,-0.98],
  [0.42,-1.04],[0.52,-1.01],[0.60,-1.05],[0.67,-1.02],[0.74,-1.04],[0.81,-1.01],[0.88,-1.05],[0.95,-1.02],[1.02,-1.04],[1.09,-1.01],
  [0.55,-1.10],[0.64,-1.13],[0.72,-1.09],[0.79,-1.12],[0.86,-1.10],[0.93,-1.13],[1.00,-1.09],[1.07,-1.12],[1.14,-1.10],
  [0.62,-1.20],[0.72,-1.17],[0.80,-1.21],[0.87,-1.18],[0.94,-1.20],[1.01,-1.17],[1.08,-1.21],[1.15,-1.18],
  [0.70,-1.26],[0.82,-1.29],[0.90,-1.25],[0.97,-1.28],[1.04,-1.26],[1.11,-1.29],[1.18,-1.26],
  [0.88,-1.36],[0.97,-1.33],[1.05,-1.37],[1.12,-1.34],[1.20,-1.38],[1.26,-1.38]
];
const consCore = [
  [-1.38,1.09],[-1.17,1.09],[-1.00,1.09],[-0.80,1.09],[-0.58,1.09],[-0.38,1.09],
  [-1.33,0.93],[-1.12,0.93],[-0.92,0.93],[-0.71,0.93],[-0.50,0.93],[-0.29,0.93],
  [-1.15,0.77],[-0.94,0.77],[-0.73,0.77],[-0.52,0.77],[-0.31,0.77],[-0.10,0.77],
  [-1.02,0.60],[-0.81,0.60],[-0.60,0.60],[-0.39,0.60],[-0.18,0.60],
  [0.60,-0.51],[0.78,-0.51],[0.94,-0.51],
  [0.48,-0.67],[0.63,-0.67],[0.78,-0.67],[0.93,-0.67],[1.06,-0.67],
  [0.40,-0.84],[0.58,-0.84],[0.73,-0.84],[0.87,-0.84],[1.01,-0.84],
  [0.56,-1.00],[0.71,-1.00],[0.85,-1.00],[0.99,-1.00],
  [0.68,-1.15],[0.83,-1.15],[0.97,-1.15],[1.11,-1.15],
  [0.86,-1.31],[1.00,-1.31],[1.15,-1.31]
];
const consSparse = [
  [1.37,-0.12],[1.35,-0.36],[1.33,-0.75],[1.37,-1.15],[1.28,-0.90],[1.50,-1.34],[1.18,-1.42],[0.78,-1.45],
  [0.92,-1.42],[1.05,-1.50],[1.17,-0.55],[1.17,-0.67],[1.20,-0.78],[1.15,-1.29]
];

// ── (e) L_guidance + L_cycle + L_consistence ─────────────────
const allUpper = [
  [-0.60,1.16],[-0.55,1.15],[-0.30,1.17],[-0.26,1.16],[-0.33,1.10],[-0.22,1.08],[-0.70,1.10],[-0.62,1.10],
  [-0.86,1.07],[-0.40,1.06],[-0.33,1.03],[-0.28,1.05],[-0.24,1.02],[-0.22,0.96],[-0.20,0.94],[-0.64,1.02],[-0.58,1.04],[-0.48,1.00],
  [-0.80,0.94],[-0.76,0.92],[-0.71,0.95],[-0.62,0.96],[-0.53,0.94],[-0.46,0.97],[-0.40,0.93],[-0.35,0.96],[-0.29,0.92],[-0.24,0.88],
  [-0.80,0.85],[-0.72,0.88],[-0.66,0.85],[-0.60,0.89],[-0.54,0.86],[-0.48,0.88],[-0.42,0.84],[-0.36,0.87],[-0.31,0.83],[-0.27,0.86],
  [-0.92,0.78],[-0.86,0.80],[-0.80,0.77],[-0.74,0.80],[-0.68,0.76],[-0.62,0.79],[-0.56,0.77],[-0.50,0.80],[-0.44,0.76],[-0.38,0.79],[-0.33,0.75],
  [-0.98,0.71],[-0.90,0.70],[-0.84,0.72],[-0.78,0.69],[-0.72,0.72],[-0.66,0.68],[-0.60,0.71],[-0.54,0.69],[-0.48,0.72],[-0.42,0.68],[-0.37,0.71],
  [-0.92,0.60],[-0.88,0.62],[-0.82,0.64],[-0.76,0.61],[-0.70,0.64],[-0.64,0.60],[-0.58,0.63],[-0.52,0.61],[-0.46,0.64],[-0.40,0.60],[-0.35,0.63],
  [-0.98,0.54],[-0.92,0.52],[-0.86,0.55],[-0.80,0.52],[-0.74,0.56],[-0.68,0.53],[-0.62,0.55],[-0.56,0.51],[-0.50,0.55],[-0.44,0.52],[-0.39,0.55],[-0.34,0.50],
  [-0.99,0.48],[-0.93,0.45],[-0.87,0.47],[-0.81,0.44],[-0.75,0.48],[-0.69,0.45],[-0.63,0.47],[-0.57,0.43],[-0.51,0.47],[-0.45,0.44],[-0.40,0.46],
  [-0.88,0.39],[-0.82,0.36],[-0.76,0.39],[-0.70,0.37],[-0.64,0.40],[-0.58,0.36],[-0.52,0.39],[-0.46,0.37],[-0.60,0.34],
  [-0.92,0.32],[-0.84,0.30],[-0.78,0.33],[-0.68,0.34],[-0.55,0.33],[-0.48,0.35]
];
const allLower = [
  [0.52,-0.23],[0.60,-0.21],[0.68,-0.20],[0.74,-0.22],[0.79,-0.10],[0.79,-0.18],
  [0.25,-0.32],[0.30,-0.34],[0.40,-0.30],[0.48,-0.31],[0.55,-0.28],[0.62,-0.30],[0.70,-0.29],[0.77,-0.31],[0.84,-0.29],[0.90,-0.32],
  [0.18,-0.39],[0.33,-0.38],[0.39,-0.40],[0.45,-0.37],[0.51,-0.39],[0.57,-0.36],[0.63,-0.40],[0.69,-0.37],[0.75,-0.39],[0.82,-0.36],[0.92,-0.40],
  [0.28,-0.46],[0.34,-0.44],[0.40,-0.47],[0.46,-0.44],[0.52,-0.48],[0.58,-0.45],[0.64,-0.47],[0.70,-0.44],[0.76,-0.47],[0.84,-0.45],
  [0.24,-0.55],[0.30,-0.53],[0.36,-0.56],[0.42,-0.53],[0.48,-0.55],[0.54,-0.52],[0.60,-0.56],[0.66,-0.53],[0.72,-0.55],[0.78,-0.52],[0.92,-0.50],
  [0.20,-0.62],[0.27,-0.60],[0.33,-0.63],[0.39,-0.61],[0.45,-0.64],[0.51,-0.61],[0.57,-0.63],[0.63,-0.60],[0.69,-0.63],[0.76,-0.61],[0.80,-0.58],
  [0.17,-0.71],[0.24,-0.69],[0.30,-0.72],[0.36,-0.69],[0.42,-0.71],[0.48,-0.68],[0.54,-0.72],[0.60,-0.69],[0.66,-0.71],[0.72,-0.70],
  [0.18,-0.78],[0.25,-0.76],[0.33,-0.79],[0.39,-0.77],[0.45,-0.80],[0.51,-0.77],[0.57,-0.79],[0.63,-0.76],[0.78,-0.78],[0.80,-0.84],
  [0.19,-0.86],[0.28,-0.85],[0.35,-0.88],[0.41,-0.85],[0.47,-0.87],[0.53,-0.84],[0.59,-0.88],[0.74,-0.85],
  [0.15,-0.97],[0.22,-0.94],[0.33,-0.95],[0.38,-0.92],[0.44,-0.95],[0.50,-0.93],[0.56,-0.96],[0.66,-0.94],[0.62,-1.00],
  [0.17,-1.02],[0.33,-1.01],[0.38,-1.04],[0.47,-1.02],[0.58,-1.04],[0.68,-1.03]
];
const allSparse = [
  [-1.47,0.40],[-1.45,-0.14],[-1.20,0.37],[-1.14,0.37],[-1.12,0.28],[-1.05,0.38],[-1.03,0.35],[-1.02,0.10],
  [-0.98,0.33],[-0.98,0.71],[-0.55,1.39],[-0.35,1.38],[-0.47,-0.13],[-0.21,0.24],[-0.18,-0.39],[-0.08,1.13],
  [-0.03,1.14],[-0.04,1.22],[-0.10,0.83],[-0.07,1.00],[0.06,1.30],[-0.67,1.17],[-0.64,1.15],
  [0.02,-0.88],[0.10,-1.28],[0.10,-0.56],[0.20,-1.18],[0.31,-1.38],[0.37,-1.40],[0.40,-1.28],[0.33,-1.14],
  [0.65,-1.44],[0.71,-1.44],[0.55,-1.26],[0.80,-1.12],[0.96,-0.93],[0.92,-0.71],[0.87,-0.85],[1.02,-0.40],
  [1.06,-0.35],[1.10,-0.18],[1.10,-0.40],[1.09,-0.25],[1.13,0.30],[1.25,0.23],[1.36,0.20],[1.39,-0.06],
  [1.24,-0.17],[1.25,-0.31],[1.30,-0.33],[1.21,-0.58],[0.92,-0.20],[0.88,-0.30],[0.38,-1.20],[0.39,-1.09],
  [0.25,-1.06],[0.15,-0.80]
];

// ── (f) Target ───────────────────────────────────────────────
const tgtUpper = [
  [-0.95,1.10],[-0.80,1.13],[-0.72,1.17],[-0.62,1.15],[-0.55,1.22],[-0.45,1.19],[-0.40,1.12],[-0.28,1.14],[-0.18,1.16],[-0.10,1.13],[-0.35,1.24],[-0.50,1.08],
  [-1.00,1.04],[-0.92,1.01],[-0.84,1.05],[-0.76,1.02],[-0.68,1.05],[-0.60,1.01],[-0.52,1.04],[-0.44,1.02],[-0.36,1.05],[-0.28,1.01],[-0.20,1.04],[-0.12,1.02],[-0.04,1.04],
  [-1.10,0.94],[-1.02,0.92],[-0.94,0.95],[-0.86,0.92],[-0.78,0.96],[-0.70,0.93],[-0.62,0.95],[-0.54,0.91],[-0.46,0.95],[-0.38,0.92],[-0.30,0.94],[-0.22,0.91],[-0.14,0.95],[-0.06,0.92],[0.04,0.90],
  [-1.15,0.84],[-1.06,0.87],[-0.98,0.83],[-0.90,0.86],[-0.82,0.83],[-0.74,0.87],[-0.66,0.84],[-0.58,0.86],[-0.50,0.82],[-0.42,0.86],[-0.34,0.83],[-0.26,0.86],[-0.18,0.82],[-0.10,0.85],[-0.02,0.83],[0.08,0.86],
  [-1.20,0.77],[-1.11,0.74],[-1.03,0.77],[-0.95,0.74],[-0.87,0.78],[-0.79,0.75],[-0.71,0.77],[-0.63,0.73],[-0.55,0.77],[-0.47,0.74],[-0.39,0.76],[-0.31,0.73],[-0.23,0.77],[-0.15,0.74],[-0.07,0.76],[0.01,0.73],[0.10,0.75],
  [-1.22,0.66],[-1.14,0.69],[-1.06,0.65],[-0.98,0.68],[-0.90,0.65],[-0.82,0.69],[-0.74,0.66],[-0.66,0.68],[-0.58,0.64],[-0.50,0.68],[-0.42,0.65],[-0.34,0.68],[-0.26,0.64],[-0.18,0.67],[-0.10,0.65],[-0.02,0.68],[0.06,0.64],[0.14,0.66],
  [-1.25,0.57],[-1.16,0.60],[-1.08,0.56],[-1.00,0.59],[-0.92,0.56],[-0.84,0.60],[-0.76,0.57],[-0.68,0.59],[-0.60,0.55],[-0.52,0.59],[-0.44,0.56],[-0.36,0.59],[-0.28,0.55],[-0.20,0.58],[-0.12,0.56],[-0.04,0.59],[0.04,0.55],[0.12,0.58],[0.20,0.56],
  [-1.22,0.48],[-1.13,0.51],[-1.05,0.47],[-0.97,0.50],[-0.89,0.47],[-0.81,0.51],[-0.73,0.48],[-0.65,0.50],[-0.57,0.46],[-0.49,0.50],[-0.41,0.47],[-0.33,0.50],[-0.25,0.46],[-0.17,0.49],[-0.09,0.47],[-0.01,0.50],[0.07,0.46],[0.15,0.49],
  [-1.18,0.39],[-1.10,0.42],[-1.02,0.38],[-0.94,0.41],[-0.86,0.38],[-0.78,0.42],[-0.70,0.39],[-0.62,0.41],[-0.54,0.37],[-0.46,0.41],[-0.38,0.38],[-0.30,0.41],[-0.22,0.37],[-0.14,0.40],[-0.06,0.38],[0.02,0.41],[0.10,0.37],[0.18,0.40],
  [-1.12,0.30],[-1.04,0.33],[-0.96,0.29],[-0.88,0.32],[-0.80,0.29],[-0.72,0.33],[-0.64,0.30],[-0.56,0.32],[-0.48,0.28],[-0.40,0.32],[-0.32,0.29],[-0.24,0.32],[-0.16,0.28],[-0.08,0.31],[0.00,0.29],[0.08,0.32],[0.16,0.28],
  [-1.08,0.21],[-1.00,0.24],[-0.92,0.20],[-0.84,0.23],[-0.76,0.20],[-0.68,0.24],[-0.60,0.21],[-0.52,0.23],[-0.44,0.19],[-0.36,0.23],[-0.28,0.20],[-0.20,0.23],[-0.12,0.19],[-0.04,0.22],[0.04,0.20],[0.14,0.23],
  [-1.05,0.12],[-0.96,0.15],[-0.88,0.11],[-0.80,0.14],[-0.72,0.11],[-0.64,0.15],[-0.56,0.12],[-0.48,0.14],[-0.40,0.10],[-0.32,0.14],[-0.24,0.11],[-0.16,0.14],[-0.08,0.10],[0.00,0.13],[0.08,0.11],
  [-1.00,0.03],[-0.90,0.06],[-0.82,0.02],[-0.74,0.05],[-0.66,0.02],[-0.58,0.06],[-0.50,0.03],[-0.42,0.05],[-0.34,0.01],[-0.26,0.05],[-0.18,0.02],[-0.10,0.05],[-0.02,0.01],
  [-1.03,-0.06],[-0.92,-0.03],[-0.84,-0.07],[-0.74,-0.04],[-0.64,-0.06],[-0.54,-0.03],[-0.45,-0.07],[-0.36,-0.04],[-0.26,-0.06],[-0.16,-0.03],[-0.08,-0.07],
  [-0.94,-0.15],[-0.78,-0.12],[-0.62,-0.16],[-0.50,-0.13],[-0.40,-0.17],[-0.30,-0.14],[-0.20,-0.16]
];
const tgtUpperCore = [
  [-0.88,0.80],[-0.70,0.80],[-0.52,0.80],[-0.34,0.80],[-0.16,0.80],
  [-0.98,0.71],[-0.80,0.71],[-0.62,0.71],[-0.44,0.71],[-0.26,0.71],[-0.08,0.71],
  [-0.88,0.62],[-0.70,0.62],[-0.52,0.62],[-0.34,0.62],[-0.16,0.62],
  [-1.02,0.53],[-0.84,0.53],[-0.66,0.53],[-0.48,0.53],[-0.30,0.53],[-0.12,0.53],
  [-0.92,0.44],[-0.74,0.44],[-0.56,0.44],[-0.38,0.44],[-0.20,0.44],
  [-0.98,0.35],[-0.80,0.35],[-0.62,0.35],[-0.44,0.35],[-0.26,0.35],[-0.08,0.35],
  [-0.88,0.26],[-0.70,0.26],[-0.52,0.26],[-0.34,0.26],[-0.16,0.26],
  [-0.76,0.17],[-0.58,0.17],[-0.40,0.17],[-0.22,0.17]
];
const tgtLower = [
  [0.25,0.45],[0.36,0.49],[0.44,0.42],[0.60,0.38],[0.60,0.30],[0.80,0.39],[0.85,0.23],[0.92,0.27],[0.40,0.50],[0.33,0.43],
  [0.20,0.32],[0.28,0.34],[0.38,0.30],[0.50,0.33],
  [0.10,0.17],[0.18,0.20],[0.26,0.16],[0.34,0.19],[0.45,0.15],[0.55,0.18],[0.65,0.14],[0.75,0.16],[0.88,0.14],
  [0.02,0.07],[0.12,0.10],[0.20,0.06],[0.28,0.09],[0.36,0.06],[0.44,0.10],[0.52,0.07],[0.60,0.09],[0.68,0.05],[0.76,0.08],[0.84,0.06],[0.94,0.09],
  [0.00,-0.02],[0.08,0.01],[0.16,-0.03],[0.24,0.00],[0.32,-0.03],[0.40,0.01],[0.48,-0.02],[0.56,0.00],[0.64,-0.04],[0.72,0.00],[0.80,-0.03],[0.88,0.00],[0.96,-0.02],
  [-0.06,-0.10],[0.04,-0.12],[0.12,-0.09],[0.20,-0.12],[0.28,-0.09],[0.36,-0.13],[0.44,-0.10],[0.52,-0.12],[0.60,-0.08],[0.68,-0.12],[0.76,-0.09],[0.84,-0.12],[0.92,-0.08],[1.00,-0.11],[1.10,-0.14],
  [-0.10,-0.20],[-0.02,-0.17],[0.06,-0.21],[0.14,-0.18],[0.22,-0.20],[0.30,-0.17],[0.38,-0.21],[0.46,-0.18],[0.54,-0.20],[0.62,-0.17],[0.70,-0.21],[0.78,-0.18],[0.86,-0.20],[0.94,-0.17],[1.02,-0.21],[1.10,-0.19],
  [-0.14,-0.27],[-0.06,-0.30],[0.02,-0.26],[0.10,-0.29],[0.18,-0.26],[0.26,-0.30],[0.34,-0.27],[0.42,-0.29],[0.50,-0.25],[0.58,-0.29],[0.66,-0.26],[0.74,-0.29],[0.82,-0.25],[0.90,-0.28],[0.98,-0.26],[1.06,-0.29],[1.14,-0.27],
  [-0.12,-0.38],[-0.04,-0.35],[0.04,-0.39],[0.12,-0.36],[0.20,-0.38],[0.28,-0.35],[0.36,-0.39],[0.44,-0.36],[0.52,-0.38],[0.60,-0.35],[0.68,-0.39],[0.76,-0.36],[0.84,-0.38],[0.92,-0.35],[1.00,-0.39],[1.08,-0.36],
  [-0.15,-0.45],[-0.05,-0.48],[0.03,-0.44],[0.11,-0.47],[0.19,-0.44],[0.27,-0.48],[0.35,-0.45],[0.43,-0.47],[0.51,-0.43],[0.59,-0.47],[0.67,-0.44],[0.75,-0.47],[0.83,-0.43],[0.91,-0.46],[0.99,-0.44],[1.07,-0.47],[1.15,-0.45],
  [-0.08,-0.56],[0.00,-0.53],[0.08,-0.57],[0.16,-0.54],[0.24,-0.56],[0.32,-0.53],[0.40,-0.57],[0.48,-0.54],[0.56,-0.56],[0.64,-0.53],[0.72,-0.57],[0.80,-0.54],[0.88,-0.56],[0.96,-0.53],[1.04,-0.57],[1.12,-0.55],
  [-0.02,-0.63],[0.06,-0.66],[0.14,-0.62],[0.22,-0.65],[0.30,-0.62],[0.38,-0.66],[0.46,-0.63],[0.54,-0.65],[0.62,-0.61],[0.70,-0.65],[0.78,-0.62],[0.86,-0.65],[0.94,-0.61],[1.02,-0.64],[1.12,-0.63],
  [0.02,-0.74],[0.10,-0.71],[0.18,-0.75],[0.26,-0.72],[0.34,-0.74],[0.42,-0.71],[0.50,-0.75],[0.58,-0.72],[0.66,-0.74],[0.74,-0.71],[0.82,-0.75],[0.90,-0.72],[0.98,-0.74],[1.08,-0.72],
  [0.04,-0.81],[0.12,-0.84],[0.20,-0.80],[0.28,-0.83],[0.36,-0.80],[0.44,-0.84],[0.52,-0.81],[0.60,-0.83],[0.68,-0.79],[0.76,-0.83],[0.84,-0.80],[0.92,-0.83],[1.00,-0.81],
  [0.08,-0.92],[0.16,-0.89],[0.24,-0.93],[0.32,-0.90],[0.40,-0.92],[0.48,-0.89],[0.56,-0.93],[0.64,-0.90],[0.72,-0.92],[0.80,-0.89],[0.88,-0.93],[0.96,-0.90],
  [0.06,-1.00],[0.16,-0.98],[0.26,-1.02],[0.36,-0.99],[0.44,-1.01],[0.52,-0.98],[0.60,-1.02],[0.68,-0.99],[0.76,-1.01],[0.86,-1.03],
  [0.12,-1.10],[0.22,-1.08],[0.32,-1.11],[0.40,-1.08],[0.50,-1.10],[0.58,-1.07],[0.66,-1.11],[0.74,-1.09],
  [0.18,-1.19],[0.30,-1.17],[0.45,-1.20],[0.55,-1.18],[0.64,-1.16],[0.72,-1.20]
];
const tgtLowerCore = [
  [0.20,-0.14],[0.38,-0.15],[0.56,-0.14],[0.74,-0.15],
  [0.10,-0.23],[0.28,-0.23],[0.46,-0.23],[0.64,-0.23],[0.82,-0.23],
  [0.16,-0.32],[0.34,-0.32],[0.52,-0.32],[0.70,-0.32],[0.88,-0.32],
  [0.06,-0.41],[0.24,-0.41],[0.42,-0.41],[0.60,-0.41],[0.78,-0.41],[0.96,-0.41],
  [0.14,-0.50],[0.32,-0.50],[0.50,-0.50],[0.68,-0.50],[0.86,-0.50],
  [0.10,-0.59],[0.28,-0.59],[0.46,-0.59],[0.64,-0.59],[0.82,-0.59],[1.00,-0.59],
  [0.18,-0.68],[0.36,-0.68],[0.54,-0.68],[0.72,-0.68],[0.90,-0.68],
  [0.22,-0.77],[0.40,-0.77],[0.58,-0.77],[0.76,-0.77],
  [0.30,-0.86],[0.48,-0.86],[0.66,-0.86]
];
const tgtSparse = [
  [-1.46,0.65],[-1.42,0.22],[-1.37,0.66],[-1.36,0.89],[-1.33,0.84],[-1.30,0.27],[-1.25,0.22],[-1.25,0.11],
  [-1.22,0.50],[-1.25,1.06],[-1.24,1.20],[-1.18,0.80],[-1.15,0.32],[-1.15,0.03],[-1.17,-0.05],[-0.97,-0.30],
  [-0.87,1.35],[-0.72,1.38],[-0.60,1.32],[-0.50,1.27],[-0.30,1.36],[-0.20,1.40],[0.30,1.35],[0.13,0.74],
  [0.21,0.91],[0.15,1.02],[-0.95,-0.23],[-0.85,-0.25],[-0.80,-0.38],[-0.68,-0.54],[-0.57,-0.75],[-0.50,-0.43],
  [-0.37,-0.87],[-0.25,-0.85],[-0.60,-0.25],[-0.10,1.22],[0.10,1.05],[0.13,0.87],
  [-0.18,-1.12],[-0.15,-1.14],[-0.05,-1.28],[0.12,-1.36],[0.17,-1.43],[0.30,-1.46],[0.32,-1.36],[0.63,-1.37],
  [0.64,-1.35],[0.95,-1.00],[1.00,-0.93],[1.15,-0.93],[1.22,-0.82],[1.25,-0.99],[1.25,-1.12],[1.25,-0.34],
  [1.20,-0.25],[1.34,-0.24],[1.34,0.00],[1.41,0.05],[1.49,0.16],[0.25,-1.27],[0.08,-1.24],[1.05,-0.90],
  [1.18,-0.60],[1.22,-0.50]
];

// ── Panel layout: axes box in page pixels [left, top, right, bottom] ──
const PANELS = [
  { box: [55, 15, 376, 263],   font: 13,   sets: [srcUpper, srcUpperCore, srcLower, srcLowerCore, srcSparse] },
  { box: [447, 15, 769, 263],  font: 13,   sets: [guideBand, guideCore, guideCore2, guideSparse] },
  { box: [842, 15, 1163, 263], font: 13,   sets: [cycUpper, cycLower, cycSparse] },
  { box: [50, 387, 371, 636],  font: 13,   sets: [consBand, consCore, consSparse] },
  { box: [444, 387, 765, 636], font: 13,   sets: [allUpper, allLower, allSparse] },
  { box: [839, 407, 1138, 629], font: 10.5, sets: [tgtUpper, tgtUpperCore, tgtLower, tgtLowerCore, tgtSparse] },
];

const PAD_L = 56, PAD_T = 10, PAD_R = 14, PAD_B = 28;

Chart.defaults.font.family = '"DejaVu Sans", sans-serif';
Chart.defaults.color = '#000';

// matplotlib-style full box round the axes
const framePlugin = {
  id: 'frame',
  afterDraw(chart) {
    const { ctx, chartArea: a } = chart;
    ctx.save();
    ctx.strokeStyle = '#444';
    ctx.lineWidth = 1;
    ctx.strokeRect(Math.round(a.left) - 0.5, Math.round(a.top) - 0.5,
                   Math.round(a.right - a.left) + 1, Math.round(a.bottom - a.top) + 1);
    ctx.restore();
  },
};

const fmtTick = v => (v < 0 ? '\u2212' : '') + Math.abs(v).toFixed(1);

function axisOpts(font, isX) {
  return {
    type: 'linear',
    min: -1.5, max: 1.5,
    afterBuildTicks: s => { s.ticks = TICKS.map(v => ({ value: v })); },
    afterFit: s => { if (isX) s.height = PAD_B; else s.width = PAD_L; },
    grid: { drawOnChartArea: false, drawTicks: true, tickLength: 3, color: '#444' },
    border: { display: false },
    ticks: {
      autoSkip: false, maxRotation: 0, padding: isX ? 0 : 2,
      color: '#000', font: { size: font },
      callback: v => fmtTick(v),
    },
  };
}

const root = document.getElementById('root');
PANELS.forEach(p => {
  const [l, t, r, b] = p.box;
  const wrap = document.createElement('div');
  wrap.className = 'panel';
  const w = (r - l) + PAD_L + PAD_R;
  const h = (b - t) + PAD_T + PAD_B;
  wrap.style.left = (l - PAD_L) + 'px';
  wrap.style.top = (t - PAD_T) + 'px';
  const cv = document.createElement('canvas');
  cv.width = w; cv.height = h;
  cv.style.width = w + 'px'; cv.style.height = h + 'px';
  wrap.appendChild(cv);
  root.appendChild(wrap);

  const pts = p.sets.flat().map(([x, y]) => ({ x, y }));
  new Chart(cv.getContext('2d'), {
    type: 'scatter',
    data: {
      datasets: [{
        data: pts,
        backgroundColor: DOT,
        borderWidth: 0,
        pointRadius: 3.7,
        pointHoverRadius: 3.7,
      }],
    },
    options: {
      responsive: false,
      animation: false,
      events: [],
      layout: { padding: { left: 0, top: PAD_T, right: PAD_R, bottom: 0 } },
      plugins: { legend: { display: false }, tooltip: { enabled: false } },
      scales: { x: axisOpts(p.font, true), y: axisOpts(p.font, false) },
    },
    plugins: [framePlugin],
  });
});
</script>
</body>
</html>
